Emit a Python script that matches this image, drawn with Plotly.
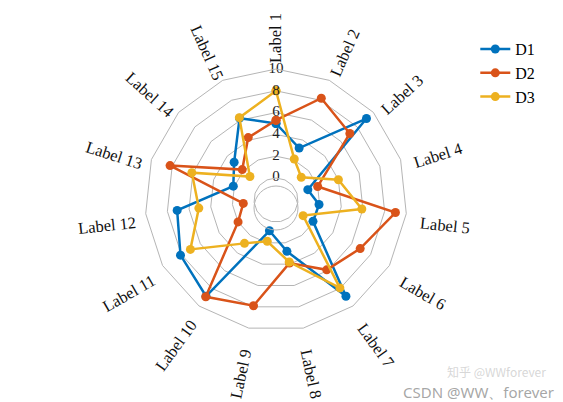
import numpy as np
import plotly.graph_objects as go

# data
labels = ["Label %d" % i for i in range(1, 16)]
d1 = [5.0, 3.2, 9.15, 1.05, 1.95, 1.9, 8.9, 2.8, 0.87, 8.9, 8.1, 7.1, 2.1, 3.15, 6.2]
d2 = [5.3, 8.2, 7.1, 2.0, 9.0, 6.9, 5.9, 3.9, 7.9, 8.95, 2.0, 1.0, 8.2, 2.15, 4.25]
d3 = [8.0, 2.1, 1.1, 4.0, 5.9, 0.85, 7.95, 3.8, 1.85, 2.9, 7.05, 5.1, 6.1, 1.2, 6.25]
rticks = [0, 2, 4, 6, 8, 10]

series = [("D1", d1, "#0072BD"), ("D2", d2, "#D95319"), ("D3", d3, "#EDB120")]

W, H = 563, 402
cx, cy, R = 268, 202, 131  # wanted polar centre (px from left / bottom) and radius
hole_px = 22               # radius of the 0 ring
dy_fix = 8  # plotly centres the 15-gon slightly lower than the domain centre
font = "Liberation Serif"

fig = go.Figure()
for name, vals, col in series:
    fig.add_trace(go.Scatterpolar(
        r=vals + vals[:1], theta=labels + labels[:1], name=name,
        mode="lines+markers",
        line=dict(color=col, width=2.5),
        marker=dict(color=col, size=9),
    ))

# radial tick labels drawn on top of the data, like the reference
# (plotly drops a point sitting exactly on the hole edge, so nudge 0 a hair out)
fig.add_trace(go.Scatterpolar(
    r=[max(t, 0.05) for t in rticks], theta=[labels[0]] * len(rticks),
    text=[str(t) for t in rticks],
    mode="text", textposition="middle center", showlegend=False,
    cliponaxis=False,
    textfont=dict(family=font, size=15, color="#222"), hoverinfo="skip",
))

# rotated angular labels
annotations = []
for k, lab in enumerate(labels):
    th = np.deg2rad(90 - 24 * k)
    ang = -(90 - 24 * k)
    if np.cos(th) < -1e-6:
        ang += 180
    ang = (ang + 180) % 360 - 180
    annotations.append(dict(
        x=(cx + 170 * np.cos(th)) / W, y=(cy + 170 * np.sin(th)) / H,
        xref="paper", yref="paper", text=lab, showarrow=False,
        textangle=ang, xanchor="center", yanchor="middle",
        font=dict(family=font, size=16.5, color="#111"),
    ))

annotations.append(dict(x=540 / W, y=1 - 363 / H, xref="paper", yref="paper",
                        xanchor="right", yanchor="middle",
                        text="知乎 @WWforever", showarrow=False,
                        font=dict(family="Noto Sans CJK SC", size=12, color="rgba(205,205,205,0.8)")))
annotations.append(dict(x=548 / W, y=1 - 384 / H, xref="paper", yref="paper",
                        xanchor="right", yanchor="middle",
                        text="CSDN @WW、forever", showarrow=False,
                        font=dict(family="Noto Sans", size=15, color="rgba(150,150,150,0.85)")))

fig.update_layout(
    width=W, height=H,
    margin=dict(l=0, r=0, t=0, b=0),
    paper_bgcolor="white",
    font=dict(family=font, size=16, color="black"),
    polar=dict(
        domain=dict(x=[(cx - R) / W, (cx + R) / W],
                    y=[(cy + dy_fix - R) / H, (cy + dy_fix + R) / H]),
        bgcolor="white",
        hole=hole_px / R,
        gridshape="linear",
        radialaxis=dict(range=[0, 10], tickvals=rticks[1:], showticklabels=False,
                        ticks="", showline=False, gridcolor="#b5b5b5", gridwidth=1),
        angularaxis=dict(direction="clockwise", rotation=90, showgrid=False,
                         showticklabels=False, ticks="", showline=True,
                         linecolor="#b5b5b5", linewidth=1),
    ),
    shapes=[dict(type="circle", xref="paper", yref="paper", layer="above",
                 x0=(cx - hole_px) / W, x1=(cx + hole_px) / W,
                 y0=(cy - hole_px) / H, y1=(cy + hole_px) / H,
                 line=dict(color="#b5b5b5", width=1))],
    legend=dict(x=0.83, y=0.94, xanchor="left", yanchor="top",
                font=dict(family=font, size=16), bgcolor="rgba(0,0,0,0)",
                itemwidth=30, tracegroupgap=0),
    annotations=annotations,
)

fig.write_html("out.html")
